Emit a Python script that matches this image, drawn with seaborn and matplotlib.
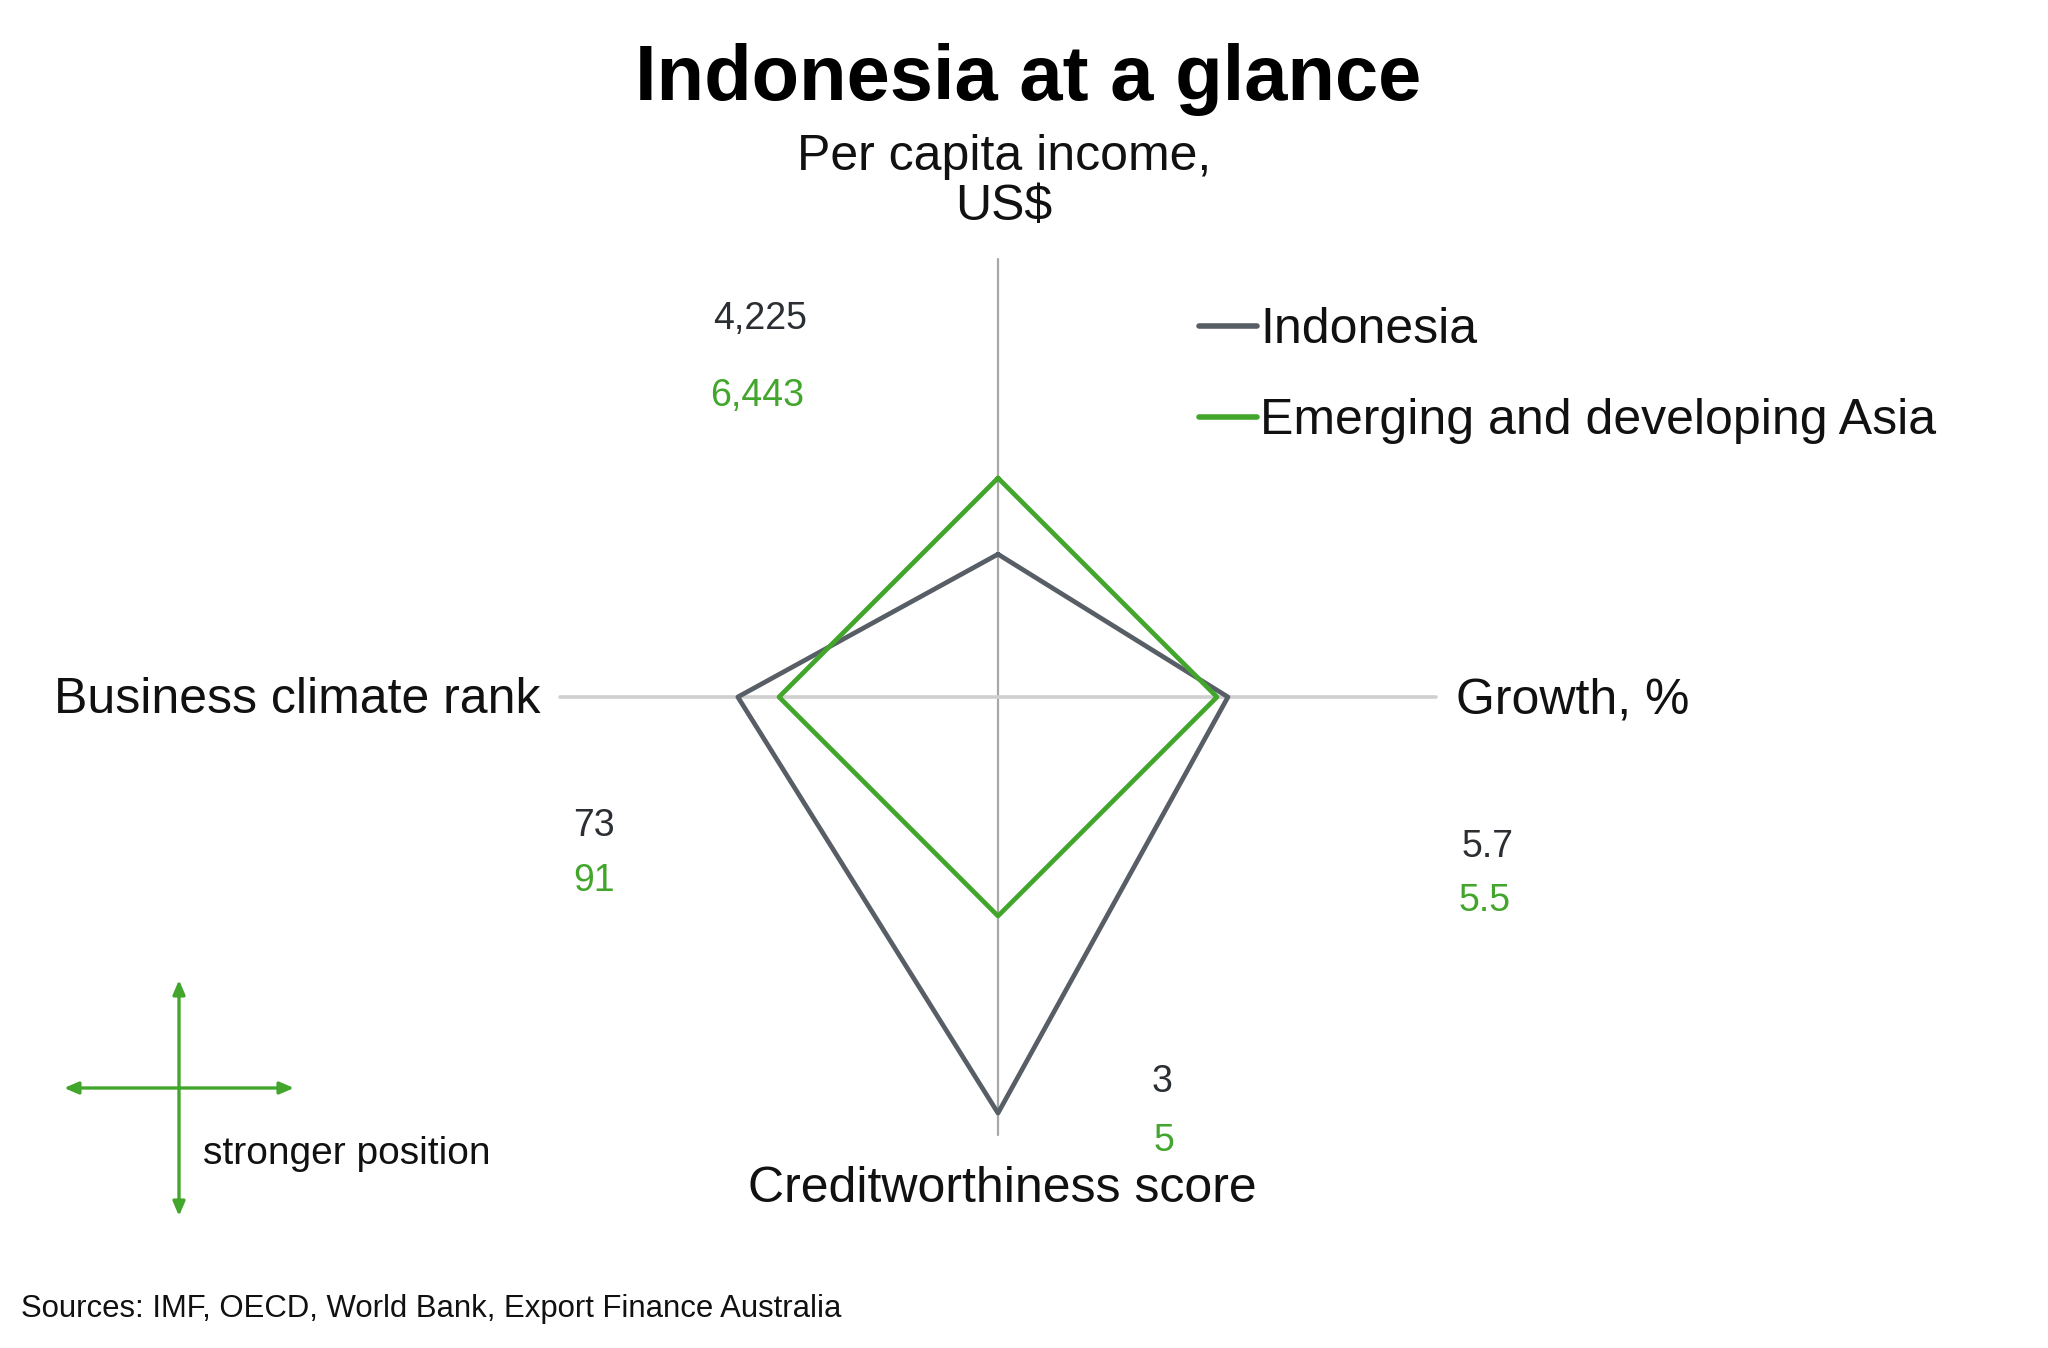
import numpy as np
import pandas as pd
import seaborn as sns
import matplotlib.pyplot as plt
from matplotlib.lines import Line2D

# Axis names clockwise from the top
axes_names = ["Per capita income,\nUS$", "Growth, %", "Creditworthiness score", "Business climate rank"]
series_names = ["Indonesia", "Emerging and developing Asia"]

# Values shown as labels
indonesia_labels = ["4,225", "5.7", "3", "73"]
asia_labels = ["6,443", "5.5", "5", "91"]

# Plotted position along each spoke (share of spoke length)
indonesia_pos = [0.326, 0.525, 0.95, 0.594]
asia_pos = [0.50, 0.50, 0.50, 0.50]

grey = "#585e65"
green = "#43a62c"
colors = {"Indonesia": grey, "Emerging and developing Asia": green}

W, H = 2048, 1348
CX, CY, R = 998, 697, 438  # centre and spoke length in pixels


def fx(px):
    return px / W


def fy(py):
    return 1 - py / H


sns.set_theme(style="white")
plt.rcParams["font.family"] = ["Liberation Sans", "DejaVu Sans"]

fig = plt.figure(figsize=(W / 100, H / 100), dpi=100)
ax = fig.add_axes([0, 0, 1, 1])
ax.set_xlim(-CX / R, (W - CX) / R)
ax.set_ylim(-(H - CY) / R, CY / R)
ax.set_axis_off()

# spokes
angles = np.array([90, 0, -90, 180]) * np.pi / 180
ax.plot([0, 0], [-1, 1], color="#a8a8a8", lw=1.6, zorder=1)
ax.plot([-1, 1], [0, 0], color="#cfcfcf", lw=2.6, zorder=1)

# polygon data
rows = []
for name, pos in zip(series_names, [indonesia_pos, asia_pos]):
    closed = list(pos) + [pos[0]]
    ang = list(angles) + [angles[0]]
    for i, (r, a) in enumerate(zip(closed, ang)):
        rows.append({"series": name, "order": i, "x": r * np.cos(a), "y": r * np.sin(a)})
df = pd.DataFrame(rows)

sns.lineplot(data=df, x="x", y="y", hue="series", palette=colors, sort=False,
             estimator=None, lw=3.4, ax=ax, legend=False, zorder=3)

# legend
handles = [Line2D([], [], color=colors[n], lw=4) for n in series_names]
ax.legend(handles, series_names, loc="upper left", bbox_to_anchor=(fx(1174), fy(282)),
          bbox_transform=fig.transFigure, frameon=False, fontsize=36, labelcolor="#111111",
          handlelength=1.15, handletextpad=0.08, labelspacing=0.9, borderpad=0)

# title and axis names
fig.text(fx(1028), fy(79), "Indonesia at a glance", fontsize=56, fontweight="bold",
         ha="center", va="center", color="#000000")
fig.text(fx(1004), fy(182), axes_names[0], fontsize=36, ha="center", va="center",
         linespacing=1.1, color="#111111")
fig.text(fx(1456), fy(700), axes_names[1], fontsize=36, ha="left", va="center", color="#111111")
fig.text(fx(1002), fy(1189), axes_names[2], fontsize=36, ha="center", va="center", color="#111111")
fig.text(fx(540), fy(700), axes_names[3], fontsize=36, ha="right", va="center", color="#111111")

# value labels
label_xy = [((760, 319), (757, 396)),
            ((1488, 847), (1485, 901)),
            ((1162, 1082), (1164, 1141)),
            ((594, 826), (594, 881))]
for (p1, p2), a, b in zip(label_xy, indonesia_labels, asia_labels):
    fig.text(fx(p1[0]), fy(p1[1]), a, fontsize=27, ha="center", va="center", color="#2b2f33")
    fig.text(fx(p2[0]), fy(p2[1]), b, fontsize=27, ha="center", va="center", color=green)

# "stronger position" key
arrow = dict(arrowstyle="<|-|>,head_length=0.7,head_width=0.3", color=green, lw=2.4,
             shrinkA=0, shrinkB=0)
ax.annotate("", xy=(fx(64), fy(1088)), xytext=(fx(294), fy(1088)),
            xycoords="figure fraction", textcoords="figure fraction", arrowprops=arrow)
ax.annotate("", xy=(fx(179), fy(980)), xytext=(fx(179), fy(1216)),
            xycoords="figure fraction", textcoords="figure fraction", arrowprops=arrow)
fig.text(fx(203), fy(1154), "stronger position", fontsize=28, ha="left", va="center",
         color="#111111")

fig.text(fx(21), fy(1309), "Sources: IMF, OECD, World Bank, Export Finance Australia",
         fontsize=22.4, ha="left", va="center", color="#111111")

fig.savefig("out.png", dpi=100, facecolor="white")
